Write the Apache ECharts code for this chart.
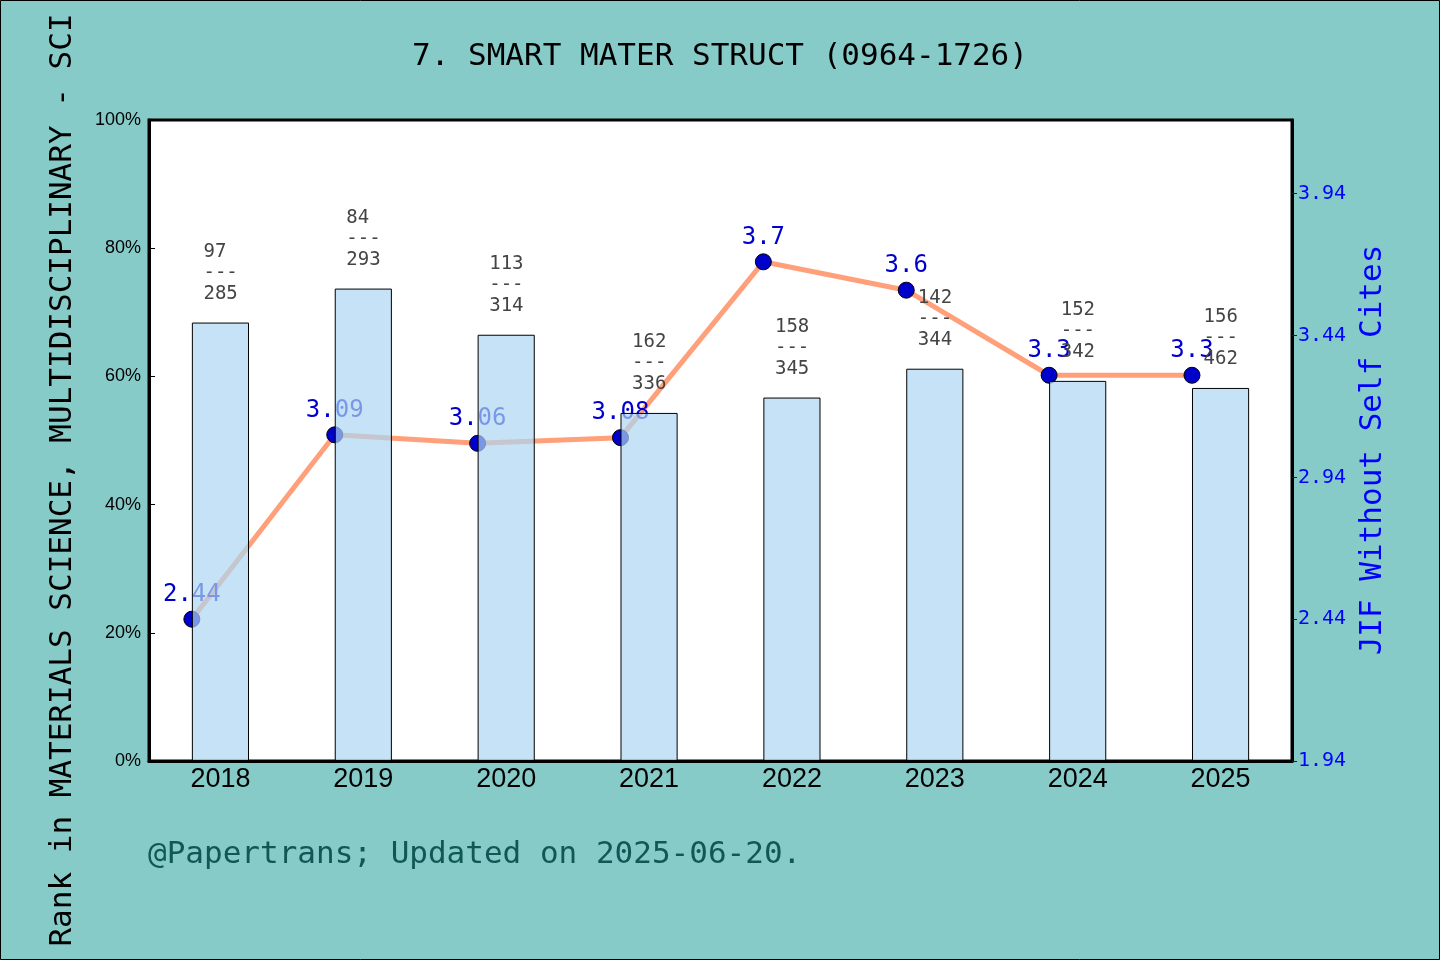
<!DOCTYPE html>
<html>
<head>
<meta charset="utf-8">
<script src="https://cdn.jsdelivr.net/npm/echarts@6/dist/echarts.min.js"></script>
<style>
  html, body { margin: 0; padding: 0; background: #87CBC9; }
  #chart { width: 1440px; height: 960px; }
</style>
</head>
<body>
<div id="chart"></div>
<script>
const years = ['2018', '2019', '2020', '2021', '2022', '2023', '2024', '2025'];
const rankPercent = [68.4, 73.7, 66.5, 54.3, 56.7, 61.2, 59.3, 58.2];
const rankNumber = [97, 84, 113, 162, 158, 142, 152, 156];
const rankTotal = [285, 293, 314, 336, 345, 344, 342, 462];
const jifWithoutSelf = [2.44, 3.09, 3.06, 3.08, 3.7, 3.6, 3.3, 3.3];
const leftTicks = [0, 20, 40, 60, 80, 100];
const rightMin = 1.94, rightMax = 4.2, rightStep = 0.5;

const MONO = '"DejaVu Sans Mono", monospace';
const SANS = '"Liberation Sans", Arial, sans-serif';

// layout
const W = 1440, H = 960;
const gridLeft = 149, gridRight = 148, gridTop = 120, gridBottom = 199;
const barRatio = 0.4;
const band = (W - gridLeft - gridRight) / years.length;
const lineShift = band * barRatio / 2; // line points sit on the bars' left edges

const chart = echarts.init(document.getElementById('chart'), null, { renderer: 'canvas' });
chart.setOption({
  animation: false,
  backgroundColor: '#87CBC9',
  title: {
    text: '7. SMART MATER STRUCT (0964-1726)',
    left: 'center',
    top: 36,
    textStyle: { fontFamily: MONO, fontSize: 31, fontWeight: 'normal', color: '#000' }
  },
  grid: [
    {
      left: gridLeft, right: gridRight, top: gridTop, bottom: gridBottom,
      show: true, backgroundColor: '#ffffff', borderColor: '#000', borderWidth: 3
    },
    {
      left: gridLeft - lineShift, right: gridRight + lineShift, top: gridTop, bottom: gridBottom,
      show: false
    }
  ],
  xAxis: [
    {
      type: 'category',
      gridIndex: 0,
      data: years,
      axisLine: { lineStyle: { color: '#000', width: 3 } },
      axisTick: { inside: true, length: 5, lineStyle: { color: '#000', width: 1 } },
      axisLabel: { fontFamily: SANS, fontSize: 27, color: '#000', margin: 5 }
    },
    {
      type: 'category',
      gridIndex: 1,
      data: years,
      show: false
    }
  ],
  yAxis: [
    {
      type: 'value',
      gridIndex: 0,
      min: leftTicks[0], max: leftTicks[leftTicks.length - 1], interval: 20,
      position: 'left',
      splitLine: { show: false },
      axisLine: { show: true, lineStyle: { color: '#000', width: 3 } },
      axisTick: { show: true, inside: true, length: 6, lineStyle: { color: '#000', width: 1 } },
      axisLabel: { formatter: '{value}%', fontFamily: SANS, fontSize: 18, color: '#000', margin: 8 }
    },
    {
      type: 'value',
      gridIndex: 0,
      min: rightMin, max: rightMax, interval: rightStep,
      position: 'right',
      splitLine: { show: false },
      axisLine: { show: true, lineStyle: { color: '#000', width: 3 } },
      axisTick: { show: true, inside: false, length: 5, lineStyle: { color: '#0000FF', width: 1 } },
      axisLabel: {
        showMaxLabel: false,
        formatter: v => v.toFixed(2),
        fontFamily: MONO, fontSize: 20, color: '#0000FF', margin: 6
      }
    },
    {
      type: 'value',
      gridIndex: 1,
      min: rightMin, max: rightMax, interval: rightStep,
      show: false
    }
  ],
  series: [
    {
      type: 'line',
      xAxisIndex: 1,
      yAxisIndex: 2,
      z: 1,
      data: jifWithoutSelf,
      symbol: 'circle',
      symbolSize: 16,
      lineStyle: { color: '#FFA07A', width: 5 },
      itemStyle: { color: '#0000CD', borderColor: '#000', borderWidth: 1 },
      label: {
        show: true, position: 'top', distance: 4,
        fontFamily: MONO, fontSize: 24, color: '#0000CD',
        formatter: p => String(p.value)
      }
    },
    {
      type: 'bar',
      xAxisIndex: 0,
      yAxisIndex: 0,
      z: 2,
      data: rankPercent,
      barWidth: (barRatio * 100) + '%',
      itemStyle: { color: 'rgba(172,214,242,0.7)', borderColor: '#000', borderWidth: 1 },
      label: {
        show: true, position: 'top', distance: 18,
        formatter: p => '{l|' + rankNumber[p.dataIndex] + '}\n{l|---}\n{l|' + rankTotal[p.dataIndex] + '}',
        rich: {
          l: { fontFamily: MONO, fontSize: 19, color: '#444', lineHeight: 21, width: 34, align: 'left' }
        }
      }
    }
  ],
  graphic: [
    {
      type: 'rect', silent: true, z: 100,
      shape: { x: 0.5, y: 0.5, width: W - 1, height: H - 1 },
      style: { fill: 'none', stroke: '#000', lineWidth: 1 }
    },
    {
      type: 'text', x: 63, y: 480, rotation: Math.PI / 2,
      style: {
        text: 'Rank in MATERIALS SCIENCE, MULTIDISCIPLINARY - SCI',
        fontFamily: MONO, fontSize: 31, fill: '#000',
        textAlign: 'center', textVerticalAlign: 'middle'
      }
    },
    {
      type: 'text', x: 1373, y: 450, rotation: Math.PI / 2,
      style: {
        text: 'JIF Without Self Cites',
        fontFamily: MONO, fontSize: 31, fill: '#0000FF',
        textAlign: 'center', textVerticalAlign: 'middle'
      }
    },
    {
      type: 'text', x: 148, y: 855,
      style: {
        text: '@Papertrans; Updated on 2025-06-20.',
        fontFamily: MONO, fontSize: 31, fill: '#105854',
        textAlign: 'left', textVerticalAlign: 'middle'
      }
    }
  ]
});
</script>
</body>
</html>
